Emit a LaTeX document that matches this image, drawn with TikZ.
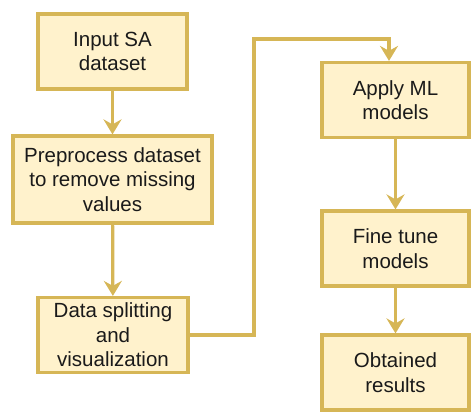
\documentclass[tikz,border=0pt]{standalone}
\usepackage{fontspec}
\setmainfont{Liberation Sans}
\usetikzlibrary{arrows.meta}
\definecolor{boxfill}{HTML}{FFF2CC}
\definecolor{boxline}{HTML}{D6B656}
\definecolor{boxtext}{HTML}{1A1A1A}
\begin{document}
\begin{tikzpicture}[x=1pt, y=-1pt,
  stepbox/.style={draw=boxline, fill=boxfill, line width=3.2pt, align=center,
    text=boxtext, inner sep=0pt, minimum height=75pt,
    font=\fontsize{20.5}{24.5}\selectfont},
  conn/.style={draw=boxline, line width=3.2pt,
    -{Stealth[length=15pt, width=18pt, inset=5pt]}}]
\begin{scope}
\useasboundingbox (0,0) rectangle (474,414);
\node[stepbox, minimum width=149pt] (input) at (112.5, 51.5) {Input SA\\dataset};
\node[stepbox, minimum width=199pt, minimum height=87pt] (prep) at (112.5, 179.5) {Preprocess dataset\\to remove missing\\values};
\node[stepbox, minimum width=150pt] (split) at (113, 335) {Data splitting\\and\\visualization};
\node[stepbox, minimum width=147pt] (apply) at (395.5, 100) {Apply ML\\models};
\node[stepbox, minimum width=147pt] (tune) at (395.5, 248.5) {Fine tune\\models};
\node[stepbox, minimum width=147pt] (result) at (395.5, 372.5) {Obtained\\results};
\coordinate (bend) at (254, 39);

\draw[conn] (input) -- (prep);
\draw[conn] (prep) -- (split);
\draw[conn] (split.east) -| (bend) -| ([xshift=-6.5pt]apply.north);
\draw[conn] (apply) -- (tune);
\draw[conn] (tune) -- (result);
\end{scope}
\end{tikzpicture}
\end{document}
